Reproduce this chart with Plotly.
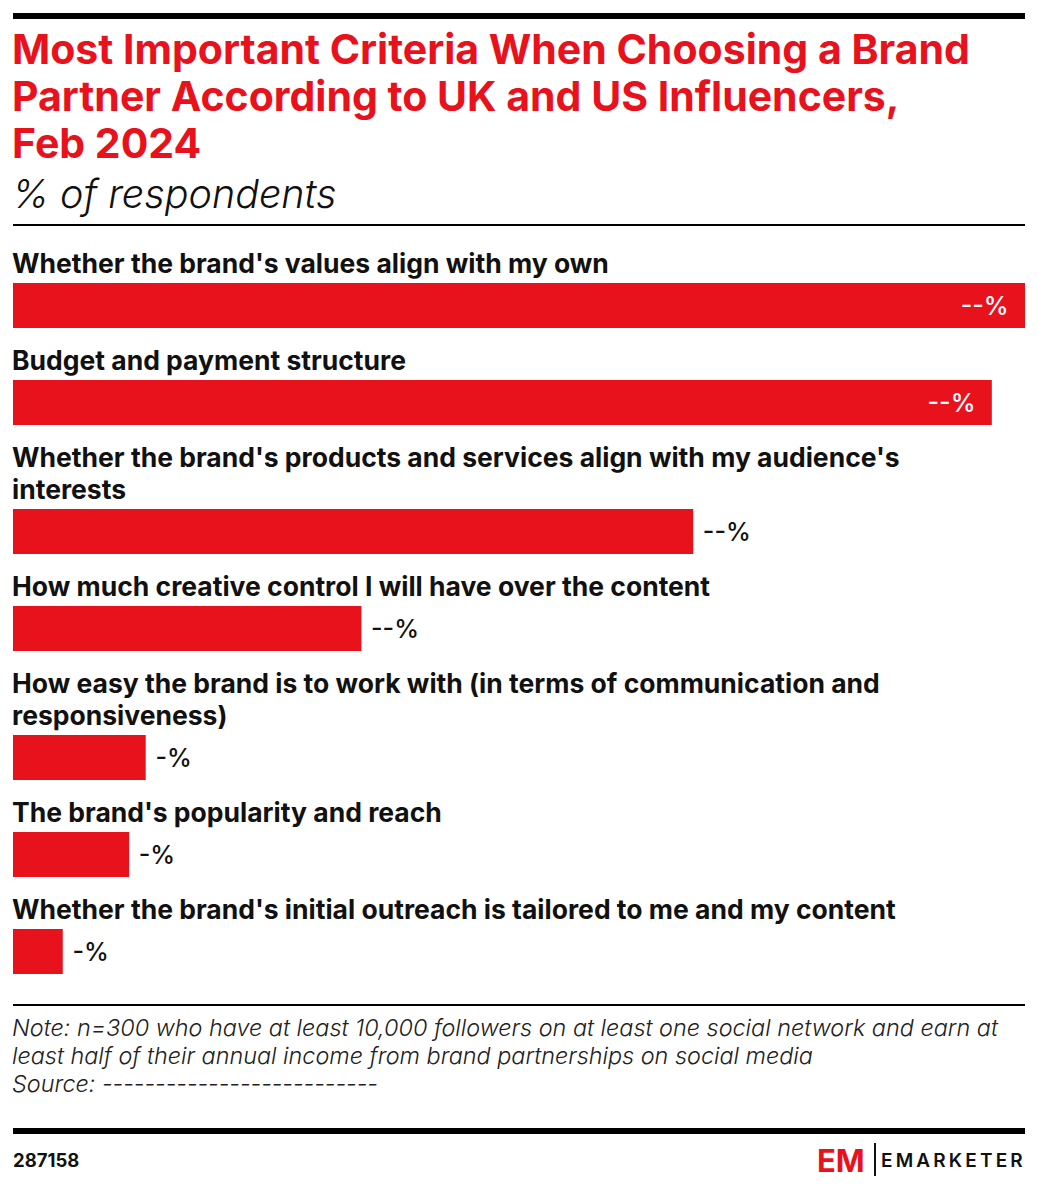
import plotly.graph_objects as go

categories = [
    "Whether the brand's values align with my own",
    "Budget and payment structure",
    "Whether the brand's products and services align with my audience's<br>interests",
    "How much creative control I will have over the content",
    "How easy the brand is to work with (in terms of communication and<br>responsiveness)",
    "The brand's popularity and reach",
    "Whether the brand's initial outreach is tailored to me and my content",
]
values = [61, 59, 41, 21, 8, 7, 3]
value_labels = ["--%", "--%", "--%", "--%", "-%", "-%", "-%"]
label_inside = [True, True, False, False, False, False, False]

title_lines = [
    "Most Important Criteria When Choosing a Brand",
    "Partner According to UK and US Influencers,",
    "Feb 2024",
]
subtitle = "% of respondents"
note_lines = [
    "Note: n=300 who have at least 10,000 followers on at least one social network and earn at",
    "least half of their annual income from brand partnerships on social media",
    "Source: --------------------------",
]
chart_id = "287158"

RED = "#E8121D"
FONT = "Inter"
W, H = 1038, 1189
L, R, T, B = 13, 13, 230, 189
PLOT_TOP, PLOT_BOT = T, H - B

BAR_H = 45
LINE_H = 32
ROW_GAP = 65
centers = []
c = 305.5
for i, cat in enumerate(categories):
    if i > 0:
        c += ROW_GAP + LINE_H * (cat.count("<br>") + 1)
    centers.append(c)

def py(p):
    return (PLOT_BOT - p) / (PLOT_BOT - PLOT_TOP)

def px(p):
    return (p - L) / (W - L - R)

NB = "\u00a0"
display_text = [(t + NB * 2) if ins else (NB + t) for t, ins in zip(value_labels, label_inside)]

fig = go.Figure()
fig.add_trace(go.Bar(
    x=values, y=centers, orientation="h", width=BAR_H,
    marker=dict(color=RED, line=dict(width=0)),
    text=display_text,
    textposition=["inside" if f else "outside" for f in label_inside],
    insidetextanchor="end",
    textfont=dict(family=FONT, size=25, weight=500),
    insidetextfont=dict(family=FONT, size=25, color="white", weight=500),
    outsidetextfont=dict(family=FONT, size=25, color="#111", weight=500),
    constraintext="none",
    cliponaxis=False,
    hoverinfo="skip",
))

annotations = []
for cat, cy in zip(categories, centers):
    lines = cat.split("<br>")
    n = len(lines)
    for k, line in enumerate(lines):
        annotations.append(dict(
            text="<b>" + line + "</b>", xref="paper", yref="y", x=0, xshift=-3,
            y=cy - BAR_H / 2 - 20 - LINE_H * (n - 1 - k),
            xanchor="left", yanchor="middle", align="left", showarrow=False,
            font=dict(family=FONT, size=26.5, color="#111"),
        ))

for k, (line, yy) in enumerate(zip(title_lines, [49, 96, 143])):
    annotations.append(dict(
        text="<b>" + line + "</b>", xref="paper", yref="paper", x=0, xshift=-3, y=py(yy),
        xanchor="left", yanchor="middle", align="left", showarrow=False,
        font=dict(family=FONT, size=41, color=RED),
    ))
annotations.append(dict(
    text="<i>" + subtitle + "</i>", xref="paper", yref="paper", x=0, xshift=-3, y=py(194),
    xanchor="left", yanchor="middle", align="left", showarrow=False,
    font=dict(family=FONT, size=39.5, color="#111", weight=300),
))
for line, yy in zip(note_lines, [1027, 1055, 1083]):
    annotations.append(dict(
        text="<i>" + line + "</i>", xref="paper", yref="paper", x=0, xshift=-3, y=py(yy),
        xanchor="left", yanchor="middle", align="left", showarrow=False,
        font=dict(family=FONT, size=23.4, color="#222", weight=300),
    ))
annotations.append(dict(
    text="<b>" + chart_id + "</b>", xref="paper", yref="paper", x=0, xshift=-2, y=py(1160),
    xanchor="left", yanchor="middle", showarrow=False,
    font=dict(family=FONT, size=18.5, color="#111"),
))
annotations.append(dict(
    text="<b>EM</b>", xref="paper", yref="paper", x=px(815), y=py(1160),
    xanchor="left", yanchor="middle", showarrow=False,
    font=dict(family=FONT, size=31, color=RED),
))
annotations.append(dict(
    text="E\u2009M\u2009A\u2009R\u2009K\u2009E\u2009T\u2009E\u2009R", xref="paper", yref="paper", x=1.0, y=py(1160),
    xanchor="right", yanchor="middle", showarrow=False,
    font=dict(family=FONT, size=19, color="#111", weight=600),
))

shapes = [
    dict(type="line", xref="paper", yref="paper", x0=0, x1=1, y0=py(16), y1=py(16),
         line=dict(color="#000", width=6)),
    dict(type="line", xref="paper", yref="paper", x0=0, x1=1, y0=py(225), y1=py(225),
         line=dict(color="#000", width=2)),
    dict(type="line", xref="paper", yref="paper", x0=0, x1=1, y0=py(1005), y1=py(1005),
         line=dict(color="#000", width=2)),
    dict(type="line", xref="paper", yref="paper", x0=0, x1=1, y0=py(1131), y1=py(1131),
         line=dict(color="#000", width=6)),
    dict(type="line", xref="paper", yref="paper", x0=px(875), x1=px(875), y0=py(1143), y1=py(1176),
         line=dict(color="#111", width=2)),
]

fig.update_layout(
    width=W, height=H,
    margin=dict(l=L, r=R, t=T, b=B, pad=0),
    paper_bgcolor="white", plot_bgcolor="white",
    showlegend=False,
    xaxis=dict(range=[0, max(values)], visible=False, fixedrange=True),
    yaxis=dict(range=[PLOT_BOT, PLOT_TOP], visible=False, fixedrange=True),
    annotations=annotations, shapes=shapes,
    uniformtext=dict(mode=False),
)

fig.write_html("out.html", config={"displayModeBar": False})
